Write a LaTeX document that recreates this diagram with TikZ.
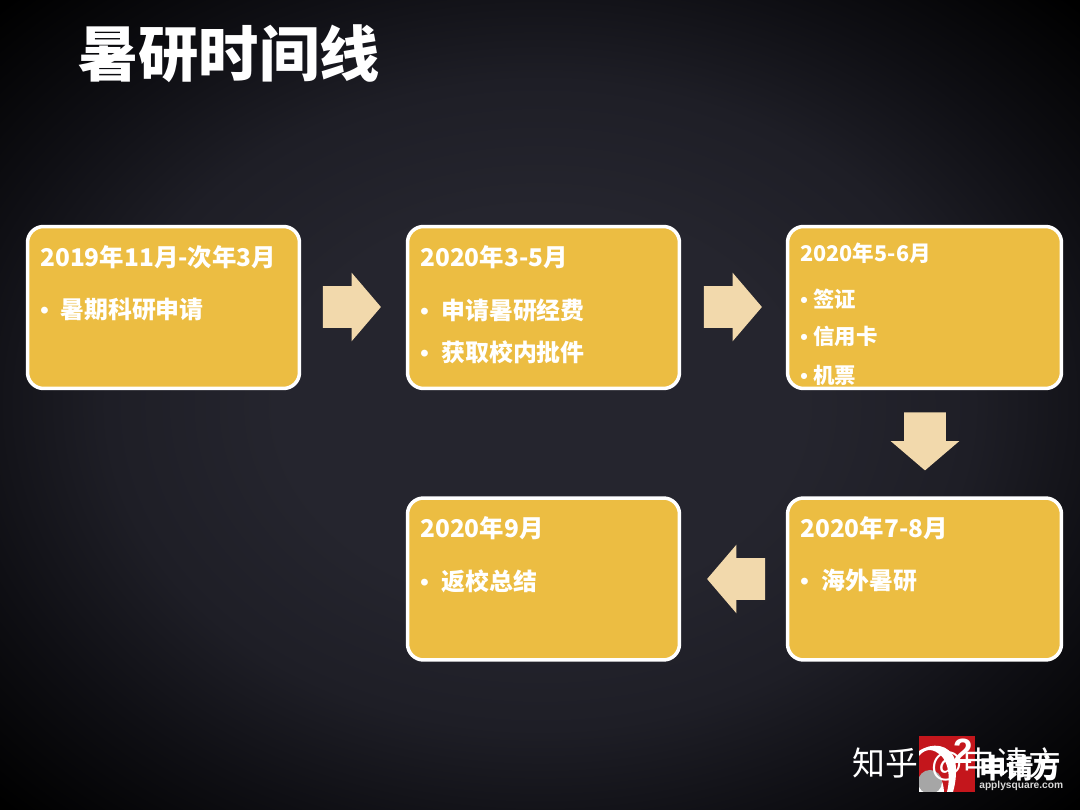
\documentclass[tikz,border=0pt]{standalone}
\usepackage{fontspec}
\setmainfont{Noto Sans CJK SC}
\newfontfamily\heavyfont{Noto Sans CJK SC Black}
\newfontfamily\latinfont{Liberation Sans}
\usetikzlibrary{shapes.arrows}
\definecolor{slidegold}{HTML}{ECBD42}
\definecolor{arrowsand}{HTML}{F2D9AC}
\definecolor{logored}{HTML}{C4161C}
\definecolor{glowcore}{HTML}{25252E}
\definecolor{glowmid}{HTML}{1E1E26}
\definecolor{glowedge}{HTML}{0F0F14}
\pgfdeclareradialshading{slideglow}{\pgfpoint{0bp}{0bp}}{color(0bp)=(glowcore); color(12bp)=(glowcore); color(20bp)=(glowmid); color(27bp)=(glowedge); color(35bp)=(black); color(50bp)=(black)}
\newcommand{\bul}[1]{\makebox[#1][l]{\latinfont•}}
\tikzset{
    stagebox/.style={draw=white, line width=0.07cm, fill=slidegold, rounded corners=0.32cm, minimum width=#1, minimum height=3.24cm},
    datetext/.style={anchor=west, inner sep=0, text=white, font=\bfseries\fontsize{13.9pt}{15pt}\selectfont},
    itemtext/.style={anchor=west, inner sep=0, text=white, font=\bfseries\fontsize{13.6pt}{15pt}\selectfont},
    smalldate/.style={datetext, font=\bfseries\fontsize{12.3pt}{14pt}\selectfont},
    smallitem/.style={itemtext, font=\bfseries\fontsize{12.2pt}{14pt}\selectfont},
    flowarrow/.style={shape=single arrow, fill=arrowsand, inner sep=0, text height=0.82cm, text depth=0cm, minimum height=1.16cm, single arrow head extend=0.27cm, single arrow tip angle=99, rotate=#1},
}
\begin{document}
\begin{tikzpicture}[x=0.02cm, y=-0.02cm]
    \useasboundingbox (0,0) rectangle (1080,810);
    \shade [shading=slideglow] (0,0) rectangle (1080,810);

    \node [anchor=west, inner sep=0, text=white, font=\heavyfont\fontsize{34.3pt}{36pt}\selectfont] (title) at (78,54) {暑研时间线};

    \node [stagebox=5.44cm] (apply) at (163.5,307.5) {};
    \node [stagebox=5.44cm] (fund) at (543.5,307.5) {};
    \node [stagebox=5.48cm] (visa) at (924.5,307.5) {};
    \node [stagebox=5.48cm] (abroad) at (924.5,579) {};
    \node [stagebox=5.44cm] (back) at (543.5,579) {};

    \node [flowarrow=0] (go1) at (343,307) {};
    \node [flowarrow=0] (go2) at (724,307) {};
    \node [flowarrow=-90] (go3) at (925,432.5) {};
    \node [flowarrow=180] (go4) at (745,579) {};

    \node [datetext] (applydate) at (40,257) {2019年11月-次年3月};
    \node [itemtext] (applyone) at (40,310) {\bul{0.4cm}暑期科研申请};

    \node [datetext] (funddate) at (420,257) {2020年3-5月};
    \node [itemtext] (fundone) at (420,310) {\bul{0.42cm}申请暑研经费};
    \node [itemtext] (fundtwo) at (420,352) {\bul{0.42cm}获取校内批件};

    \node [smalldate] (visadate) at (800,253) {2020年5-6月};
    \node [smallitem] (visaone) at (800,299) {\bul{0.26cm}签证};
    \node [smallitem] (visatwo) at (800,336) {\bul{0.26cm}信用卡};
    \node [smallitem] (visathree) at (800,375) {\bul{0.26cm}机票};

    \node [datetext] (abroaddate) at (800,528) {2020年7-8月};
    \node [itemtext] (abroadone) at (800,581) {\bul{0.42cm}海外暑研};

    \node [datetext] (backdate) at (420,528) {2020年9月};
    \node [itemtext] (backone) at (420,581) {\bul{0.42cm}返校总结};

    % logo
    \begin{scope}
        \clip (919,736) rectangle (975,792);
        \fill [logored] (919,736) rectangle (975,792);
        \fill [white] (919,751) .. controls (932,742) and (950,744) .. (955,760) .. controls (957,770) and (956,782) .. (953,792) -- (947,792) .. controls (952,772) and (946,752) .. (930,750) .. controls (926,750) and (922,752) .. (919,756) -- cycle;
        \fill [white] (919,782) .. controls (926,770) and (943,768) .. (944,792) -- (919,792) -- cycle;
        \fill [gray!70] (930,782) circle (12);
    \end{scope}
    \node [inner sep=0, text=white, font=\latinfont\bfseries\fontsize{20pt}{20pt}\selectfont] (two) at (963,751) {2};
    \node [anchor=west, inner sep=0, text=white, font=\bfseries\fontsize{15.5pt}{16pt}\selectfont] (brand) at (979,768) {申请方};
    \node [anchor=west, inner sep=0, text=white!85!black, font=\latinfont\bfseries\fontsize{5.8pt}{6pt}\selectfont] (site) at (979,786) {applysquare.com};
    \node [anchor=west, inner sep=0, text=white, font=\fontsize{18.7pt}{20pt}\selectfont] (mark) at (852,764) {知乎\hspace{0.12cm} @申请方};
\end{tikzpicture}
\end{document}
